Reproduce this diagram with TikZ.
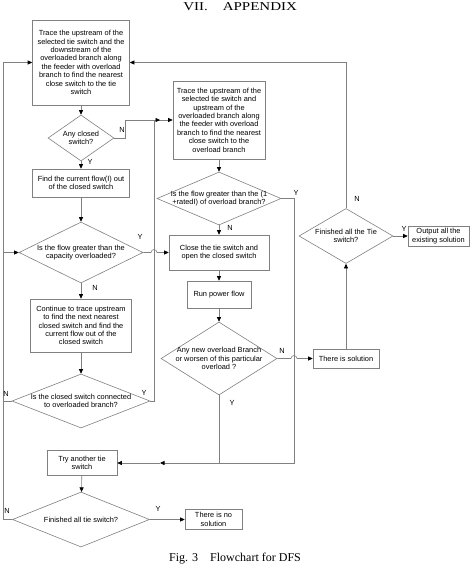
\documentclass[tikz,border=0pt]{standalone}
\usepackage{fontspec}
\setmainfont{Liberation Sans}
\newfontfamily\serifcap{Liberation Serif}
\usetikzlibrary{shapes.geometric,arrows.meta}
\definecolor{lgray}{RGB}{128,128,128}
\newcommand\ftxt{\fontsize{7.4}{8.4}\selectfont}
\begin{document}
\begin{tikzpicture}[x=1pt,y=-1pt,
  line/.style={draw=lgray, line width=0.6pt},
  arr/.style={line, -{Triangle[length=4.5pt,width=4pt,color=black,fill=black]}},
  box/.style={draw=lgray, line width=0.6pt, rectangle, inner sep=0pt, align=center, font=\ftxt},
  dia/.style={draw=lgray, line width=0.6pt, diamond, inner sep=0pt},
  txt/.style={align=center, font=\ftxt, inner sep=0pt},
  yn/.style={font=\ftxt, inner sep=0pt}]
\useasboundingbox (0,0) rectangle (474,565);
% title and caption
\node[anchor=base west, inner sep=0pt, xscale=1.25, transform shape, font=\serifcap\fontsize{12}{12}\selectfont] (title) at (183,10) {VII.\quad APPENDIX};
\node[anchor=base west, inner sep=0pt, font=\serifcap\fontsize{12}{12}\selectfont] (cap) at (169,561) {Fig. 3\quad Flowchart for DFS};
% column 1
\node[box, minimum width=97pt, minimum height=85pt] (b1) at (81,62.5) {Trace the upstream of the\\selected tie switch and the\\downstream of the\\overloaded branch along\\the feeder with overload\\branch to find the nearest\\close switch to the tie\\switch};
\node[dia, minimum width=66pt, minimum height=46pt] (d1) at (81,138) {};
\node[txt] (t1) at (d1) {Any closed\\switch?};
\node[box, minimum width=97pt, minimum height=28pt] (b3) at (81,183) {Find the current flow(I) out\\of the closed switch};
\node[dia, minimum width=124pt, minimum height=61pt] (d2) at (81,252.5) {};
\node[txt] (t2) at (d2) {Is the flow greater than the\\capacity overloaded?};
\node[box, minimum width=101pt, minimum height=53pt] (b4) at (81,325.5) {Continue to trace upstream\\to find the next nearest\\closed switch and find the\\current flow out of the\\closed switch};
\node[dia, minimum width=138pt, minimum height=54pt] (d5) at (81,401) {};
\node[txt] (t5) at (d5) {Is the closed switch connected\\to overloaded branch?};
\node[box, minimum width=70pt, minimum height=25pt] (b5) at (82,463) {Try another tie\\switch};
\node[dia, minimum width=137pt, minimum height=55pt] (d6) at (81,519.5) {};
\node[txt] (t6) at (d6) {Finished all tie switch?};
\node[box, minimum width=57pt, minimum height=20pt] (ns) at (213.5,519.5) {There is no\\solution};
% column 2
\node[box, minimum width=92pt, minimum height=78pt] (b2) at (219,120) {Trace the upstream of the\\selected tie switch and\\upstream of the\\overloaded branch along\\the feeder with overload\\branch to find the nearest\\close switch to the\\overload branch};
\node[dia, minimum width=124pt, minimum height=53pt] (d3) at (219,198.5) {};
\node[txt] (t3) at (d3) {Is the flow greater than the (1\\+ratedI) of overload branch?};
\node[box, minimum width=100pt, minimum height=35pt] (b6) at (219,252.5) {Close the tie switch and\\open the closed switch};
\node[box, minimum width=64pt, minimum height=27pt] (b7) at (219,294.5) {Run power flow};
\node[dia, minimum width=116pt, minimum height=73pt] (d4) at (219,358.5) {};
\node[txt] (t4) at (d4) {Any new overload Branch\\or worsen of this particular\\overload ?};
% column 3
\node[box, minimum width=66pt, minimum height=19pt] (sol) at (346,358.5) {There is solution};
\node[dia, minimum width=94pt, minimum height=55pt] (d7) at (346,236) {};
\node[txt] (t7) at (d7) {Finished all the Tie\\switch?};
\node[box, minimum width=61pt, minimum height=20pt] (out) at (438.5,236) {Output all the\\existing solution};
% junction coordinates
\coordinate (ja) at (125,138);
\coordinate (jb) at (125,120);
\coordinate (jc) at (154,401);
\coordinate (jd) at (154,120);
\coordinate (je) at (160,120);
\coordinate (jf) at (3,401);
\coordinate (jg) at (3,252.5);
\coordinate (jh) at (3,519.5);
\coordinate (ji) at (3,62.5);
\coordinate (jj) at (294,198.5);
\coordinate (jk) at (294,463);
\coordinate (jl) at (160,463);
\coordinate (jm) at (219,463);
\coordinate (jn) at (346,62.5);
% connectors column 1
\draw[arr] (b1) -- (d1);
\draw[arr] (d1) -- (b3);
\draw[arr] (b3) -- (d2);
\draw[arr] (d2) -- (b4);
\draw[arr] (b4) -- (d5);
\draw[arr] (b5) -- (d6);
\draw[arr] (d6.east) -- (ns.west);
\draw[arr] (d1.east) -- (ja) -- (jb) -- (b2.west);
\draw[arr] (d5.east) -- (jc) -- (jd) -- (je);
\draw[arr] (d2.east) -- (151,252.5) arc[start angle=180,end angle=0,radius=3pt] -- (b6.west);
\draw[arr] (d5.west) -- (jf) -- (jg) -- (d2.west);
\draw[arr] (d6.west) -- (jh) -- (ji) -- (b1.west);
% connectors column 2
\draw[arr] (b2) -- (d3);
\draw[arr] (d3) -- (b6);
\draw[arr] (b6) -- (b7);
\draw[arr] (b7) -- (d4);
\draw[arr] (d3.east) -- (jj) -- (jk) -- (jl);
\draw[arr] (jl) -- (b5.east);
\draw[line] (d4.south) -- (jm);
\draw[arr] (d4.east) -- (291,358.5) arc[start angle=180,end angle=0,radius=3pt] -- (sol.west);
% column 3
\draw[arr] (sol) -- (d7);
\draw[arr] (d7.north) -- (jn) -- (b1.east);
\draw[arr] (d7.east) -- (out.west);
% Y / N labels
\node[yn] (l1) at (122,130) {N};
\node[yn] (l2) at (90,162) {Y};
\node[yn] (l3) at (140,237) {Y};
\node[yn] (l4) at (95,288) {N};
\node[yn] (l5) at (6,394) {N};
\node[yn] (l6) at (144,393) {Y};
\node[yn] (l7) at (7,511) {N};
\node[yn] (l8) at (158,509) {Y};
\node[yn] (l9) at (296,193) {Y};
\node[yn] (l10) at (230,228) {N};
\node[yn] (l11) at (282,351) {N};
\node[yn] (l12) at (232,403) {Y};
\node[yn] (l13) at (357,199) {N};
\node[yn] (l14) at (404,229) {Y};
\end{tikzpicture}
\end{document}
